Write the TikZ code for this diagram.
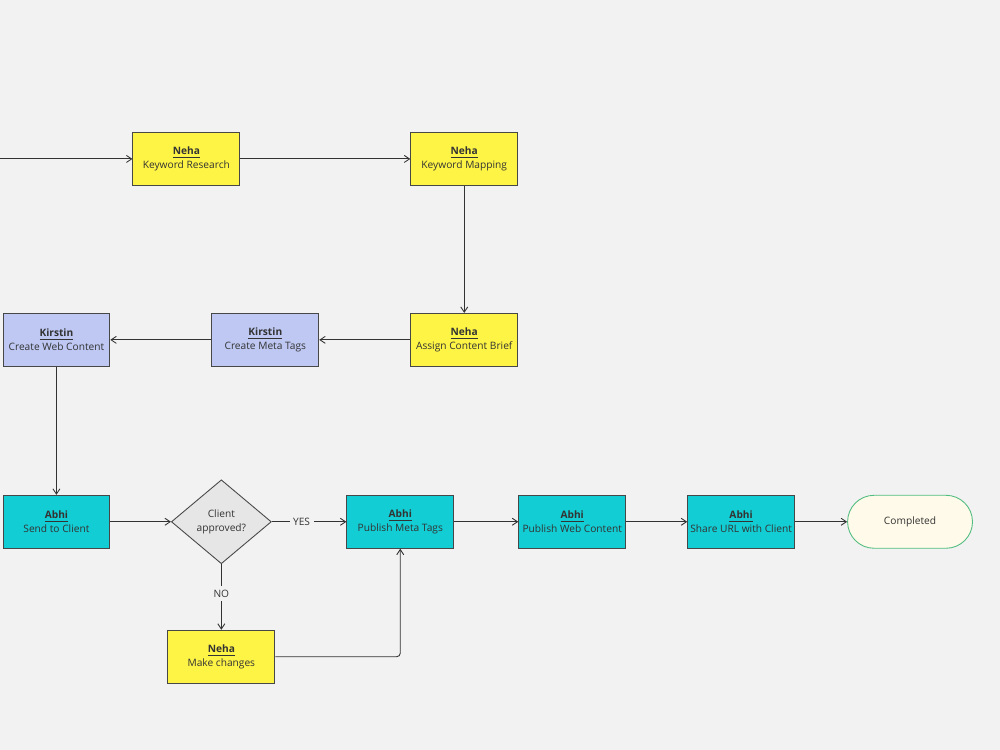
\documentclass[tikz,border=0pt]{standalone}
\usepackage{fontspec}
\setmainfont{Open Sans}
\usetikzlibrary{shapes.geometric,arrows.meta}
\definecolor{bg}{HTML}{F2F2F2}
\definecolor{ylw}{HTML}{FEF445}
\definecolor{lav}{HTML}{BEC8F3}
\definecolor{teal}{HTML}{12CDD4}
\definecolor{dgr}{HTML}{E6E6E6}
\definecolor{txt}{HTML}{333333}
\begin{document}
\begin{tikzpicture}[x=0.02cm,y=-0.02cm,
  box/.style={draw=txt!90,line width=0.5pt,minimum width=2.14cm,minimum height=1.06cm,inner sep=1pt,align=center,font=\fontsize{5.8}{8}\selectfont,text=txt},
  yb/.style={box,fill=ylw},lb/.style={box,fill=lav},tb/.style={box,fill=teal},
  arr/.style={draw=txt,line width=0.5pt,-{Straight Barb[length=3pt,width=4pt]}},
  lbl/.style={fill=bg,font=\fontsize{5.8}{7}\selectfont,text=txt,inner sep=2pt}]
\fill[bg] (0,0) rectangle (1000,750);
\newcommand{\nm}[1]{\textbf{\underline{#1}}}
\node[yb] (kr) at (186,159) {\nm{Neha}\\Keyword Research};
\node[yb] (km) at (464,159) {\nm{Neha}\\Keyword Mapping};
\node[yb] (acb) at (464,340) {\nm{Neha}\\Assign Content Brief};
\node[lb] (cmt) at (265,340) {\nm{Kirstin}\\Create Meta Tags};
\node[lb] (cwc) at (56,340) {\nm{Kirstin}\\Create Web Content};
\node[tb] (stc) at (56,522) {\nm{Abhi}\\Send to Client};
\node[diamond,draw=txt!90,fill=dgr,line width=0.5pt,minimum width=2cm,minimum height=1.68cm,inner sep=0pt,align=center,font=\fontsize{5.8}{8}\selectfont,text=txt] (ca) at (221,522) {Client\\approved?};
\node[tb] (pmt) at (400,522) {\nm{Abhi}\\Publish Meta Tags};
\node[tb] (pwc) at (572,522) {\nm{Abhi}\\Publish Web Content};
\node[tb] (surl) at (741,522) {\nm{Abhi}\\Share URL with Client};
\node[draw=green!50!teal!70!black!70,fill=yellow!5!white!97!orange,line width=0.5pt,rounded corners=0.53cm,minimum width=2.5cm,minimum height=1.06cm,font=\fontsize{5.8}{8}\selectfont,text=txt] (done) at (910,522) {Completed};
\node[yb] (mc) at (221,657) {\nm{Neha}\\Make changes};
\coordinate (start) at (0,159);
\draw[arr] (start) -- (kr);
\draw[arr] (kr) -- (km);
\draw[arr] (km) -- (acb);
\draw[arr] (acb) -- (cmt);
\draw[arr] (cmt) -- (cwc);
\draw[arr] (cwc) -- (stc);
\draw[arr] (stc) -- (ca);
\draw[arr] (ca) -- node[lbl,pos=0.4]{YES} (pmt);
\draw[arr] (ca) -- node[lbl,pos=0.45]{NO} (mc);
\draw[arr,rounded corners=2pt] (mc.east) -| (pmt.south);
\draw[arr] (pmt) -- (pwc);
\draw[arr] (pwc) -- (surl);
\draw[arr] (surl) -- (done);
\end{tikzpicture}
\end{document}
